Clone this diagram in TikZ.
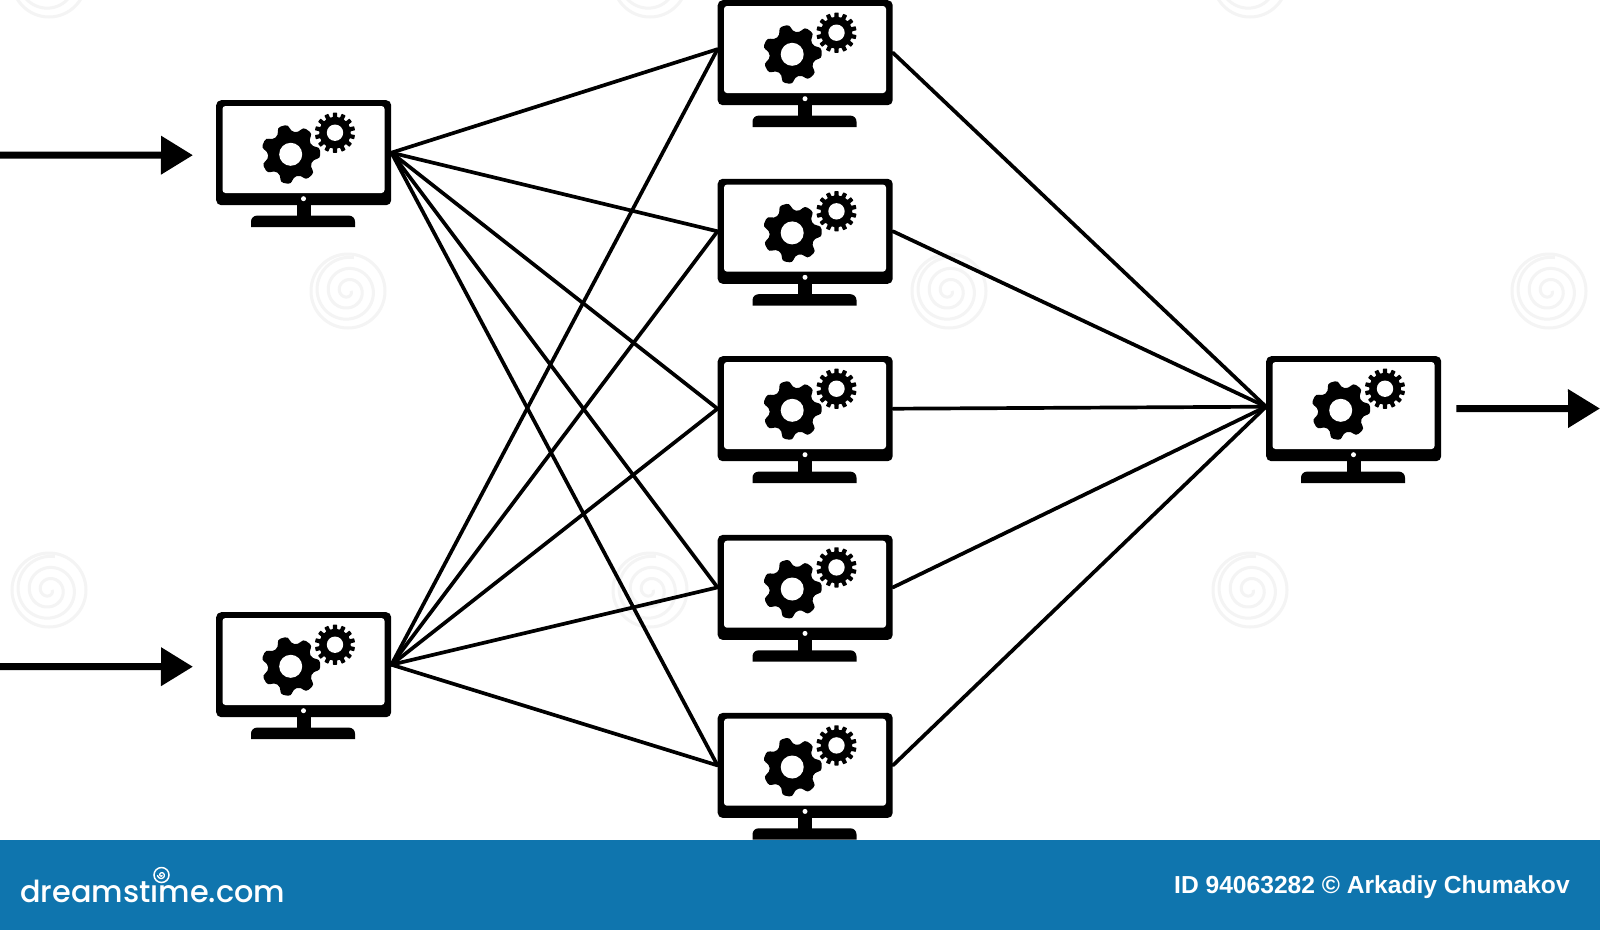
\documentclass[tikz,border=0pt]{standalone}
\usepackage{fontspec}
\usetikzlibrary{arrows.meta}
\newfontfamily\logofont{Poppins Medium}
\newfontfamily\idfont{Liberation Sans}
\definecolor{bannerblue}{HTML}{0F75AE}
\definecolor{markgray}{HTML}{F4F4F4}
\newcommand{\gearshape}[6]{% n, root r, tip r, root half, tip half, base angle
  \pgfmathtruncatemacro{\gearlast}{#1-2}
  \pgfmathsetmacro{\gearstep}{360/#1}
  \fill ({-(#6-#4)}:#2)
    \foreach \k in {0,...,\gearlast}{
      -- ({-(#6+\k*\gearstep-#5)}:#3)
      -- ({-(#6+\k*\gearstep+#5)}:#3)
      -- ({-(#6+\k*\gearstep+#4)}:#2)
      -- ({-(#6+(\k+1)*\gearstep-#4)}:#2)
    }
    -- ({-(#6+(#1-1)*\gearstep-#5)}:#3)
    -- ({-(#6+(#1-1)*\gearstep+#5)}:#3)
    -- ({-(#6+(#1-1)*\gearstep+#4)}:#2)
    -- cycle;
}
\tikzset{
  x=1pt,y=-1pt,
  monbody/.style={fill=black,rounded corners=5pt,minimum width=175pt,minimum height=105pt,inner sep=0pt,anchor=north west},
  link/.style={line width=3.7pt,black,line cap=round},
  feed/.style={line width=7pt,black,-{Triangle[length=32pt,width=37pt]}},
  wmark/.style={markgray,line width=3pt},
  moninner/.pic={
    \fill[white,rounded corners=3pt] (6.5,6) rectangle (168.5,93);
    \fill[white] (87.5,98.7) circle (2.5);
    \fill[black] (80.8,105) rectangle (94.8,116);
    \fill[black] (35,127) {[rounded corners=6pt] -- (35,115.6) -- (139,115.6)} -- (139,127) -- cycle;
    \begin{scope}[shift={(74.7,54.3)},rounded corners=3.5pt]
      \gearshape{7}{23}{30}{16}{11}{3}
      \fill[white] (0,0) circle (11.5);
    \end{scope}
    \begin{scope}[shift={(119,32.7)},rounded corners=0.5pt]
      \gearshape{14}{15.8}{20.2}{7.5}{6}{90}
      \fill[white] (0,0) circle (8.2);
    \end{scope}
  }
}
\newcommand{\monitor}[3]{%
  \node[monbody] (#1) at (#2,#3) {};
  \pic at (#2,#3) {moninner};
}
\newcommand{\swirl}[2]{%
  \draw[wmark] (#1,#2) circle (37);
  \draw[wmark] plot[domain=0:1000,samples=90,smooth] ({#1+(3+0.031*\x)*cos(\x)},{#2+(3+0.031*\x)*sin(\x)});
}
\begin{document}
\begin{tikzpicture}
\useasboundingbox (0,0) rectangle (1600,930);
\clip (0,0) rectangle (1600,930);
\fill[white] (0,0) rectangle (1600,930);

\swirl{348}{291}\swirl{949}{291}\swirl{1549}{291}
\swirl{49}{590}\swirl{650}{590}\swirl{1250}{590}
\swirl{49}{-20}\swirl{650}{-20}\swirl{1250}{-20}

\monitor{srcA}{216}{100}
\monitor{srcB}{216}{612}
\monitor{midA}{717.5}{0}
\monitor{midB}{717.5}{178.6}
\monitor{midC}{717.5}{356}
\monitor{midD}{717.5}{534.7}
\monitor{midE}{717.5}{712.7}
\monitor{sink}{1266}{356}

\coordinate (inA) at (0,155);
\coordinate (inB) at (0,666.5);
\coordinate (outEnd) at (1600,408.5);

\draw[feed] (inA) -- ([xshift=-23pt,yshift=-2.5pt]srcA.west);
\draw[feed] (inB) -- ([xshift=-23pt,yshift=-2pt]srcB.west);
\draw[feed] ([xshift=15pt]sink.east) -- (outEnd);

\foreach \s in {srcA,srcB}{
  \draw[link] (\s.east) -- ([yshift=3.5pt]midA.west);
  \foreach \m in {midB,midC,midD,midE}{
    \draw[link] (\s.east) -- (\m.west);
  }
}
\foreach \m in {midA,midB,midC,midD,midE}{
  \draw[link] (\m.east) -- ([yshift=2pt]sink.west);
}

\fill[bannerblue] (0,840) rectangle (1600,930);
\node[anchor=base west,inner sep=0pt,white] (logo) at (20,902.7)
  {\logofont\fontsize{30.3}{36}\selectfont dreamst\char"0131 me.com};
\draw[white,line width=1.5pt] (161.5,875) circle (7.5);
\draw[white,line width=1.3pt] plot[domain=0:540,samples=30,smooth] ({161.5+(0.5+0.0065*\x)*cos(\x)},{875+(0.5+0.0065*\x)*sin(\x)});
\node[anchor=base west,inner sep=0pt,white] (credit) at (1174,893.3)
  {\idfont\bfseries\fontsize{24.6}{28}\selectfont ID 94063282 \char"00A9{} Arkadiy Chumakov};
\end{tikzpicture}
\end{document}
